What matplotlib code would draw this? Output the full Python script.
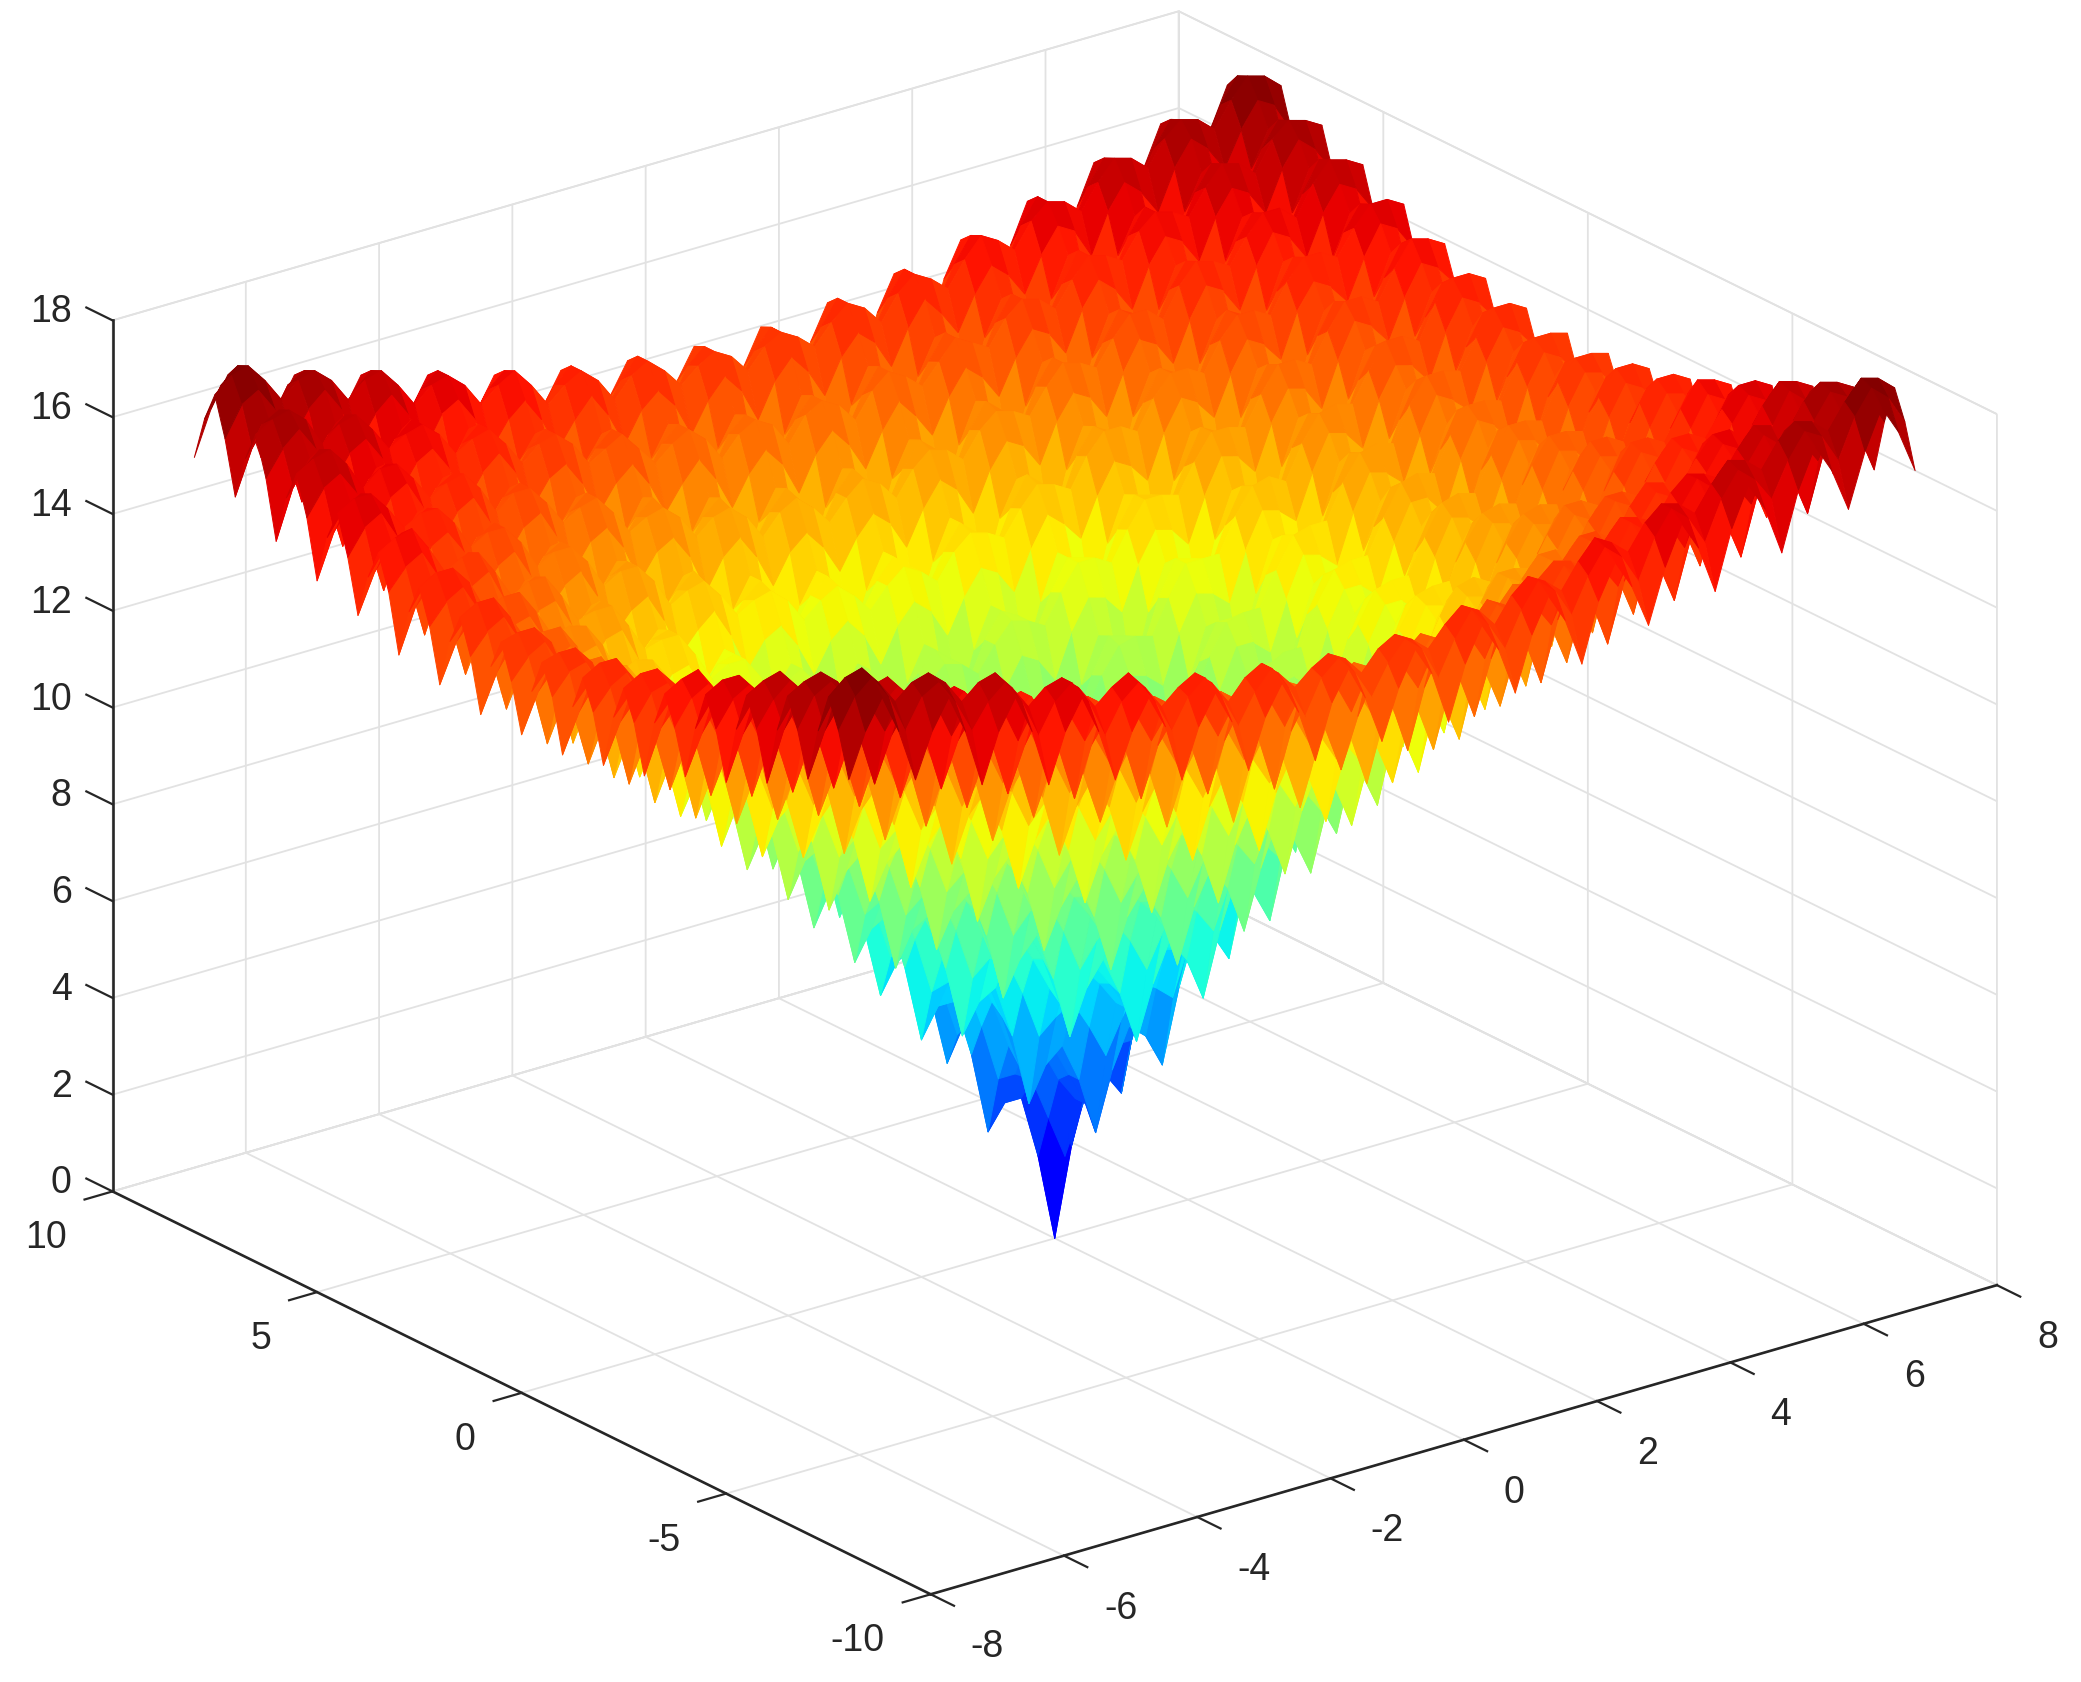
import matplotlib
matplotlib.use('Agg')
import matplotlib.pyplot as plt
from matplotlib.colors import Normalize
from mpl_toolkits.mplot3d import proj3d
import numpy as np

plt.rcParams['font.family'] = ['Liberation Sans', 'DejaVu Sans']

x_ticks = [-8, -6, -4, -2, 0, 2, 4, 6, 8]
y_ticks = [-10, -5, 0, 5, 10]
z_ticks = [0, 2, 4, 6, 8, 10, 12, 14, 16, 18]

# heights on a 0.25 grid, x,y >= 0
# row j starts on the diagonal: z(x=j/4 .. 8, y=j/4), surface is mirrored in x, y and x=y
z_rows = [
    [0.0, 1.8, 3.1, 3.1, 2.6, 4.3, 5.5, 5.5, 4.9, 6.5, 7.7, 7.5, 6.9, 8.4, 9.5, 9.3, 8.6, 10.1, 11.1, 10.9, 10.1, 11.6, 12.5, 12.2, 11.4, 12.8, 13.7, 13.4, 12.6, 13.9, 14.8, 14.4, 13.6],
    [2.7, 3.6, 3.8, 3.8, 5.0, 6.0, 6.1, 6.0, 7.2, 8.1, 8.2, 8.0, 9.1, 9.9, 10.0, 9.7, 10.8, 11.5, 11.5, 11.2, 12.2, 12.9, 12.9, 12.5, 13.5, 14.2, 14.0, 13.6, 14.6, 15.2, 15.0, 14.6],
    [4.3, 4.5, 4.6, 5.6, 6.4, 6.6, 6.8, 7.7, 8.4, 8.6, 8.7, 9.6, 10.2, 10.4, 10.4, 11.2, 11.8, 11.9, 11.9, 12.6, 13.2, 13.3, 13.2, 13.9, 14.4, 14.4, 14.3, 15.0, 15.4, 15.4, 15.3],
    [4.5, 4.3, 5.4, 6.3, 6.4, 6.3, 7.4, 8.3, 8.4, 8.2, 9.2, 10.1, 10.1, 9.8, 10.9, 11.6, 11.6, 11.3, 12.3, 13.0, 12.9, 12.6, 13.5, 14.2, 14.1, 13.7, 14.6, 15.2, 15.1, 14.7],
    [3.6, 5.1, 6.2, 6.0, 5.4, 6.9, 8.1, 7.9, 7.2, 8.7, 9.8, 9.5, 8.8, 10.3, 11.3, 11.0, 10.3, 11.7, 12.6, 12.3, 11.5, 12.9, 13.8, 13.4, 12.6, 14.0, 14.9, 14.4, 13.6],
    [6.1, 6.9, 7.0, 6.7, 7.8, 8.6, 8.7, 8.4, 9.5, 10.3, 10.3, 10.0, 11.0, 11.8, 11.7, 11.4, 12.4, 13.1, 13.0, 12.7, 13.6, 14.3, 14.1, 13.8, 14.7, 15.3, 15.1, 14.7],
    [7.5, 7.7, 7.7, 8.5, 9.1, 9.3, 9.3, 10.1, 10.7, 10.8, 10.8, 11.5, 12.1, 12.2, 12.2, 12.9, 13.4, 13.5, 13.4, 14.1, 14.6, 14.6, 14.5, 15.1, 15.6, 15.6, 15.4],
    [7.6, 7.3, 8.4, 9.1, 9.1, 8.8, 9.9, 10.6, 10.6, 10.3, 11.3, 12.0, 11.9, 11.6, 12.6, 13.3, 13.2, 12.8, 13.7, 14.4, 14.3, 13.9, 14.8, 15.4, 15.2, 14.8],
    [6.6, 8.0, 9.0, 8.7, 8.0, 9.4, 10.4, 10.1, 9.4, 10.8, 11.8, 11.4, 10.7, 12.0, 13.0, 12.6, 11.8, 13.2, 14.1, 13.7, 12.9, 14.2, 15.0, 14.6, 13.8],
    [9.0, 9.7, 9.6, 9.3, 10.3, 11.0, 10.9, 10.6, 11.6, 12.3, 12.2, 11.9, 12.8, 13.5, 13.4, 13.0, 13.9, 14.5, 14.4, 14.0, 14.9, 15.5, 15.3, 14.9],
    [10.2, 10.3, 10.2, 10.9, 11.5, 11.5, 11.5, 12.2, 12.7, 12.8, 12.6, 13.3, 13.8, 13.9, 13.8, 14.4, 14.9, 14.9, 14.7, 15.4, 15.8, 15.8, 15.6],
    [10.2, 9.8, 10.8, 11.5, 11.4, 11.0, 11.9, 12.6, 12.5, 12.1, 13.1, 13.7, 13.6, 13.2, 14.1, 14.7, 14.6, 14.2, 15.0, 15.6, 15.5, 15.0],
    [9.0, 10.4, 11.3, 10.9, 10.1, 11.5, 12.4, 12.0, 11.2, 12.6, 13.5, 13.1, 12.3, 13.6, 14.5, 14.0, 13.2, 14.5, 15.3, 14.9, 14.0],
    [11.3, 11.9, 11.8, 11.4, 12.3, 13.0, 12.9, 12.5, 13.4, 14.0, 13.9, 13.4, 14.3, 15.0, 14.8, 14.4, 15.2, 15.8, 15.6, 15.2],
    [12.4, 12.4, 12.3, 12.9, 13.4, 13.4, 13.3, 13.9, 14.4, 14.4, 14.2, 14.8, 15.3, 15.3, 15.1, 15.7, 16.2, 16.1, 15.9],
    [12.3, 11.9, 12.7, 13.4, 13.2, 12.8, 13.7, 14.3, 14.1, 13.7, 14.6, 15.2, 15.0, 14.6, 15.4, 16.0, 15.8, 15.3],
    [11.0, 12.3, 13.2, 12.8, 11.9, 13.2, 14.1, 13.6, 12.8, 14.1, 14.9, 14.5, 13.6, 14.9, 15.7, 15.2, 14.4],
    [13.2, 13.8, 13.6, 13.2, 14.0, 14.6, 14.4, 14.0, 14.9, 15.4, 15.2, 14.8, 15.6, 16.2, 16.0, 15.5],
    [14.2, 14.2, 14.0, 14.6, 15.0, 15.0, 14.8, 15.4, 15.8, 15.8, 15.6, 16.1, 16.5, 16.5, 16.3],
    [14.0, 13.5, 14.4, 15.0, 14.8, 14.3, 15.1, 15.7, 15.5, 15.0, 15.9, 16.4, 16.2, 15.7],
    [12.6, 13.9, 14.7, 14.3, 13.4, 14.6, 15.5, 15.0, 14.1, 15.3, 16.1, 15.6, 14.7],
    [14.7, 15.3, 15.1, 14.6, 15.4, 16.0, 15.8, 15.3, 16.1, 16.6, 16.4, 15.9],
    [15.7, 15.6, 15.4, 15.9, 16.3, 16.3, 16.0, 16.6, 17.0, 16.9, 16.7],
    [15.4, 14.9, 15.7, 16.2, 16.0, 15.5, 16.3, 16.9, 16.6, 16.1],
    [14.0, 15.2, 16.0, 15.5, 14.6, 15.8, 16.6, 16.1, 15.1],
    [16.0, 16.5, 16.3, 15.8, 16.6, 17.1, 16.8, 16.3],
    [16.9, 16.8, 16.5, 17.1, 17.4, 17.3, 17.1],
    [16.5, 16.0, 16.8, 17.3, 17.1, 16.5],
    [15.1, 16.3, 17.0, 16.5, 15.6],
    [17.0, 17.5, 17.3, 16.7],
    [17.9, 17.8, 17.5],
    [17.5, 16.9],
    [16.0],
]

quadrant = np.zeros((33, 33))
for j, row in enumerate(z_rows):
    quadrant[j, j:] = row
    quadrant[j:, j] = row
idx = np.abs(np.arange(-32, 33))
Z = quadrant[np.ix_(idx, idx)]
grid = np.arange(-32, 33) / 4
X, Y = np.meshgrid(grid, grid)

fig = plt.figure(figsize=(20.81, 16.82), dpi=100)
ax = fig.add_axes([-8.5 / 2081, 15.5 / 1682, 1, 1], projection='3d')
ax.set_proj_type('ortho')
ax.view_init(elev=22.2, azim=-127.5)
ax.set_box_aspect((1, 1, 0.70), zoom=1.224)

# one colour per facet, leaning to its highest corner since the valleys sit hidden behind the bumps
corners = np.stack([Z[:-1, :-1], Z[1:, :-1], Z[:-1, 1:], Z[1:, 1:]])
face_z = 0.6 * corners.mean(axis=0) + 0.4 * corners.max(axis=0)
colors = plt.cm.jet(Normalize(0, Z.max())(face_z))
surf = ax.plot_surface(X, Y, Z, facecolors=colors, rstride=1, cstride=1,
                       linewidth=0.7, antialiased=True, shade=False)
surf.set_clip_on(False)

ax.set_xlim(-8, 8)
ax.set_ylim(-10, 10)
ax.set_zlim(0, 18)
ax.set_xticks(x_ticks)
ax.set_yticks(y_ticks)
ax.set_zticks(z_ticks)
ax.set_xticklabels([])
ax.set_yticklabels([])
ax.set_zticklabels([])

for axis in (ax.xaxis, ax.yaxis, ax.zaxis):
    axis.set_pane_color((1, 1, 1, 1))
    axis.pane.set_edgecolor('#dcdcdc')
    axis.pane.set_linewidth(1.2)
    axis.pane.set_clip_on(False)
    axis.line.set_linewidth(0)
    axis._axinfo['tick']['inward_factor'] = 0
    axis._axinfo['tick']['outward_factor'] = 0
    axis._axinfo['grid'].update(color='#e2e2e2', linewidth=1.3)

# MATLAB style axis lines and ticks
dark = '#262626'
ax.plot([-8, 8], [-10, -10], [0, 0], color=dark, lw=1.9, clip_on=False)
ax.plot([-8, -8], [-10, 10], [0, 0], color=dark, lw=1.9, clip_on=False)
ax.plot([-8, -8], [10, 10], [0, 18], color=dark, lw=1.9, clip_on=False)
for t in x_ticks:
    ax.plot([t, t], [-10, -10.57], [0, 0], color=dark, lw=1.6, clip_on=False)
for t in y_ticks:
    ax.plot([-8, -8.42], [t, t], [0, 0], color=dark, lw=1.6, clip_on=False)
for t in z_ticks:
    ax.plot([-8, -8], [10, 10.64], [t, t], color=dark, lw=1.6, clip_on=False)

ax.set_xlim(-8, 8)
ax.set_ylim(-10, 10)
ax.set_zlim(0, 18)

proj = ax.get_proj()


def tick_label(text, x, y, z, dx, dy, ha):
    px, py, _ = proj3d.proj_transform(x, y, z, proj)
    ax.annotate(text, xy=(px, py), xycoords='data', xytext=(dx, dy),
                textcoords='offset pixels', ha=ha, va='center',
                fontsize=27, color=dark, annotation_clip=False)


for t in x_ticks:
    tick_label(str(t), t, -10, 0, 40, -53, 'left')
for t in y_ticks:
    tick_label(str(t), -8, t, 0, -46, -47, 'right')
for t in z_ticks:
    tick_label(str(t), -8, 10, t, -41, 8, 'right')

fig.savefig('out.png', dpi=100)
plt.close(fig)
